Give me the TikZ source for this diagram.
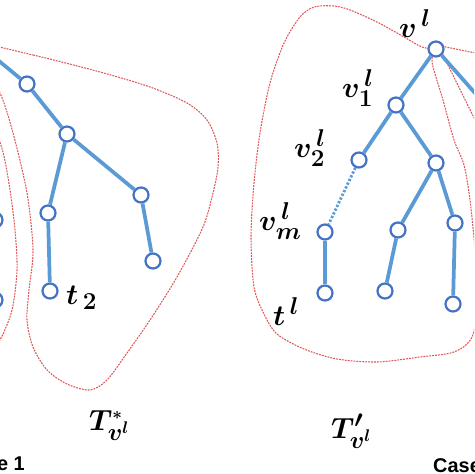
\documentclass[tikz,border=0pt]{standalone}
\usepackage{fontspec}
\newfontfamily\casefont{Liberation Sans}
\definecolor{edgeblue}{HTML}{5B9BD5}
\definecolor{ringblue}{HTML}{4472C4}
\definecolor{blobred}{HTML}{E05555}
\tikzset{
	vtx/.style={circle,draw=ringblue,line width=1.9pt,fill=white,minimum size=0.45cm,inner sep=0pt},
	link/.style={edgeblue,line width=3.2pt},
	blob/.style={blobred,line width=0.9pt,dash pattern=on 1.6pt off 0.9pt},
	lbl/.style={font=\fontsize{28}{32}\selectfont\boldmath,inner sep=0pt},
}
\begin{document}
\begin{tikzpicture}[x=0.03cm,y=-0.03cm]
	
	\useasboundingbox (0,0) rectangle (474,474);
	\clip (0,0) rectangle (474,474);
	
	% regions
	\draw[blob] plot[smooth cycle] coordinates {(-30,42) (33,55) (100,72) (150,87) (187,103) (207,120) (217,143) (218,167) (213,193) (203,227) (177,277) (150,320) (127,353) (107,380) (90,390) (67,384) (47,370) (33,347) (27,320) (29,290) (33,250) (27,193) (13,133) (0,93) (-20,62)};
	\draw[blob] plot[smooth] coordinates {(-8,120) (3,152) (10,190) (15,230) (17,270) (12,310) (0,340) (-12,352)};
	\draw[blob] plot[smooth] coordinates {(436,49) (432,62) (443,100) (454,140) (464,165) (470,200) (475,250) (478,300) (472,337) (454,352) (420,357) (377,362) (337,359) (304,349) (277,334) (264,314) (254,287) (251,237) (254,183) (260,133) (270,83) (284,43) (300,17) (314,7) (334,6) (350,10) (377,22) (404,37) (422,47) (436,49)};
	\draw[blob] (436,45)--(490,56);
	\draw[blob] (440,49)--(486,142);
	
	% left tree
	\node[vtx] (a) at (27,84) {};
	\node[vtx] (b) at (67,134) {};
	\node[vtx] (c) at (48,213) {};
	\node[vtx] (d) at (141,195) {};
	\node[vtx] (e) at (50,291) {};
	\node[vtx] (f) at (153,261) {};
	\node[vtx] (p) at (-5,220) {};
	\node[vtx] (q) at (-5,300) {};
	\coordinate (ain) at (-12,52);
	
	\draw[link] (ain)--(a);
	\draw[link] (a)--(b);
	\draw[link] (b)--(c);
	\draw[link] (b)--(d);
	\draw[link] (c)--(e);
	\draw[link] (d)--(f);
	
	% right tree
	\node[vtx] (r) at (436,49) {};
	\node[vtx] (v1) at (396,105) {};
	\node[vtx] (v2) at (359,160) {};
	\node[vtx] (n) at (436,163) {};
	\node[vtx] (vm) at (325,232) {};
	\node[vtx] (n1) at (398,230) {};
	\node[vtx] (n2) at (455,223) {};
	\node[vtx] (tl) at (325,293) {};
	\node[vtx] (m1) at (385,291) {};
	\node[vtx] (m2) at (453,304) {};
	\coordinate (rout) at (490,110);
	
	\draw[link] (r)--(rout);
	\draw[link] (r)--(v1);
	\draw[link] (v1)--(v2);
	\draw[link] (v1)--(n);
	\draw[link,line width=2.4pt,dash pattern=on 2pt off 1.5pt] (v2)--(vm);
	\draw[link] (n)--(n1);
	\draw[link] (n)--(n2);
	\draw[link] (vm)--(tl);
	\draw[link] (n1)--(m1);
	\draw[link] (n2)--(m2);
	
	% labels
	\node[lbl,anchor=base west] (lr) at (399,37) {$v^{\,l}$};
	\node[lbl,anchor=base west] (lv1) at (342,97) {$v_{1}^{\,l}$};
	\node[lbl,anchor=base west] (lv2) at (294,157) {$v_{2}^{\,l}$};
	\node[lbl,anchor=base west] (lvm) at (259,230) {$v_{m}^{\,l}$};
	\node[lbl,anchor=base west] (ltl) at (273,325) {$t^{\,l}$};
	\node[lbl,anchor=base west] (lt2) at (66,304) {$t_{\,2}$};
	\node[lbl,anchor=base west] (lts) at (89,430) {$T^{\scriptscriptstyle *}_{v^{l}}$};
	\node[lbl,anchor=base west] (ltp) at (331,438) {$T'_{v^{l}}$};
	
	\node[font=\casefont\bfseries\fontsize{17}{20}\selectfont,inner sep=0pt,anchor=base east] (case1) at (25,470) {Case 1};
	\node[font=\casefont\bfseries\fontsize{17}{20}\selectfont,inner sep=0pt,anchor=base west] (case2) at (433,472) {Case 2};
	
\end{tikzpicture}
\end{document}
